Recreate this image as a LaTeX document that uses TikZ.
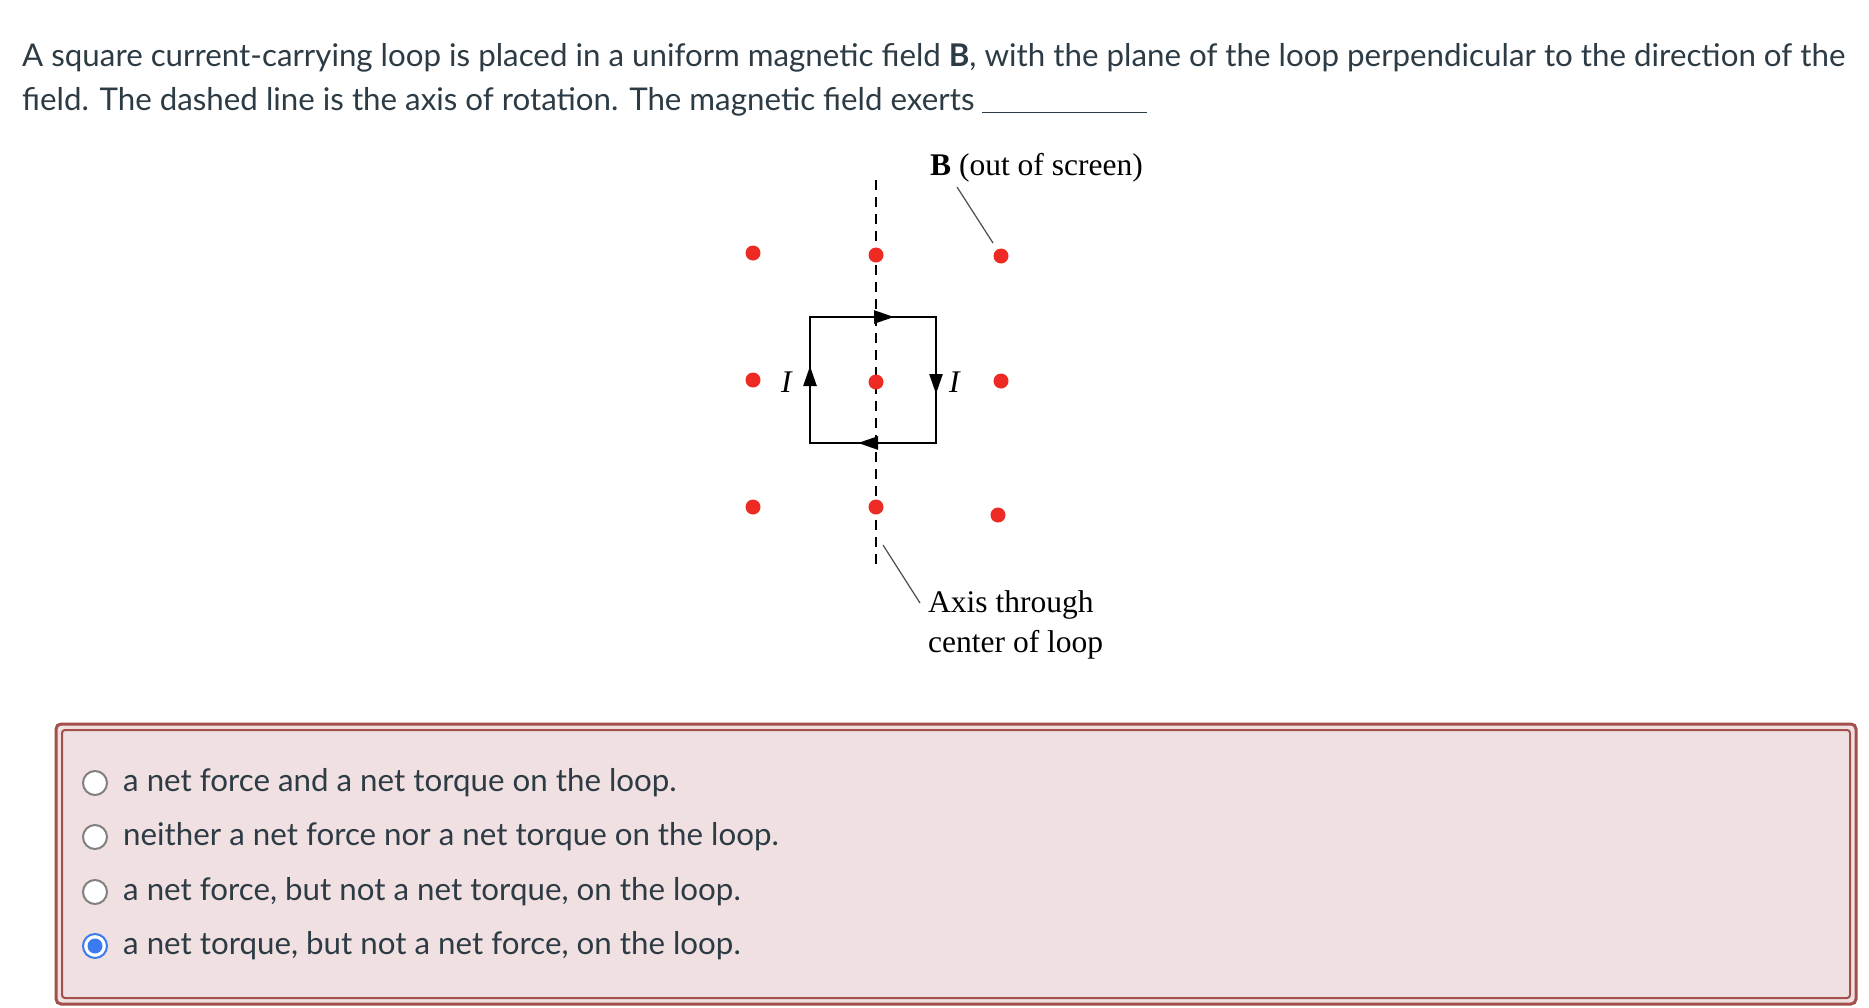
\documentclass[tikz,border=0pt]{standalone}
\usepackage{fontspec}
\setmainfont{Lato}
\newfontfamily\serifd{Liberation Serif}
\usetikzlibrary{arrows.meta}
\definecolor{txt}{HTML}{2D3B45}
\definecolor{bord}{HTML}{A34F4A}
\definecolor{boxfill}{HTML}{F0E0E1}
\definecolor{dotred}{HTML}{EE2A24}
\definecolor{radio}{HTML}{3B7BF0}
\begin{document}
\begin{tikzpicture}[x=1pt,y=-1pt,
  qtext/.style={anchor=base west,inner sep=0pt,text=txt,font=\fontsize{31.3}{36}\selectfont},
  dtext/.style={anchor=base west,inner sep=0pt,font=\serifd\fontsize{31.5}{36}\selectfont},
  fdot/.style={circle,fill=dotred,inner sep=0pt,minimum size=15pt},
  radiob/.style={circle,draw=gray,line width=2pt,fill=white,inner sep=0pt,minimum size=24pt},
  lead/.style={draw=black!70,line width=1.2pt},
  wire/.style={line width=2.4pt},
  tip/.style={-{Triangle[length=20pt,width=13pt]},wire}]
\useasboundingbox (0,0) rectangle (1869,1007);
\fill[white] (0,0) rectangle (1869,1007);
\node[qtext] (q1) at (22,66) {A square current-carrying loop is placed in a uniform magnetic field \textbf{B}, with the plane of the loop perpendicular to the direction of the};
\node[qtext] (q2) at (22,110) {field. The dashed line is the axis of rotation. The magnetic field exerts \rule[-3pt]{165pt}{1.2pt}};
% diagram
\coordinate (ax1) at (876,180); \coordinate (ax2) at (876,569);
\draw[line width=1.3pt,dash pattern=on 10pt off 7pt] (ax1) -- (ax2);
\foreach \n/\x/\y in {a/753/253,b/876/255,c/1001/256,d/753/380,e/876/382,f/1001/381,g/753/507,h/876/507,i/998/515}
  \node[fdot] (\n) at (\x,\y) {};
\coordinate (tl) at (810,317); \coordinate (tr) at (936,317);
\coordinate (br) at (936,443); \coordinate (bl) at (810,443);
\draw[wire] (tl) -- (tr) -- (br) -- (bl) -- cycle;
\draw[tip] (864,317) -- (894,317);
\draw[tip] (888,443) -- (858,443);
\draw[tip] (936,366) -- (936,394);
\draw[tip] (810,394) -- (810,366);
\node[dtext,font=\serifd\itshape\fontsize{31.5}{36}\selectfont] (il) at (781,392) {I};
\node[dtext,font=\serifd\itshape\fontsize{31.5}{36}\selectfont] (ir) at (949,392) {I};
\node[dtext] (btext) at (930,175) {\textbf{B} (out of screen)};
\coordinate (bl1) at (957,187); \coordinate (bl2) at (993,243);
\draw[lead] (bl1) -- (bl2);
\node[dtext] (axt1) at (928,612) {Axis through};
\node[dtext] (axt2) at (928,652) {center of loop};
\coordinate (al1) at (883,545); \coordinate (al2) at (920,603);
\draw[lead] (al1) -- (al2);
% answer box
\draw[bord,line width=3pt,fill=boxfill,rounded corners=5pt] (56,724) rectangle (1856,1004);
\draw[bord,line width=2pt,rounded corners=3pt] (62,730) rectangle (1850,998);
\foreach \n/\y/\t in {r1/783/{a net force and a net torque on the loop.},r2/837/{neither a net force nor a net torque on the loop.},r3/892/{a net force, but not a net torque, on the loop.}}{
  \node[radiob] (\n) at (95,\y) {};
  \node[qtext,anchor=west] (\n t) at (123,\y) {\t};
}
\node[circle,draw=radio,line width=2pt,fill=white,inner sep=0pt,minimum size=24pt] (r4) at (95,946) {};
\node[circle,fill=radio,inner sep=0pt,minimum size=15pt] (r4d) at (r4) {};
\node[qtext,anchor=west] (r4t) at (123,946) {a net torque, but not a net force, on the loop.};
\end{tikzpicture}
\end{document}
